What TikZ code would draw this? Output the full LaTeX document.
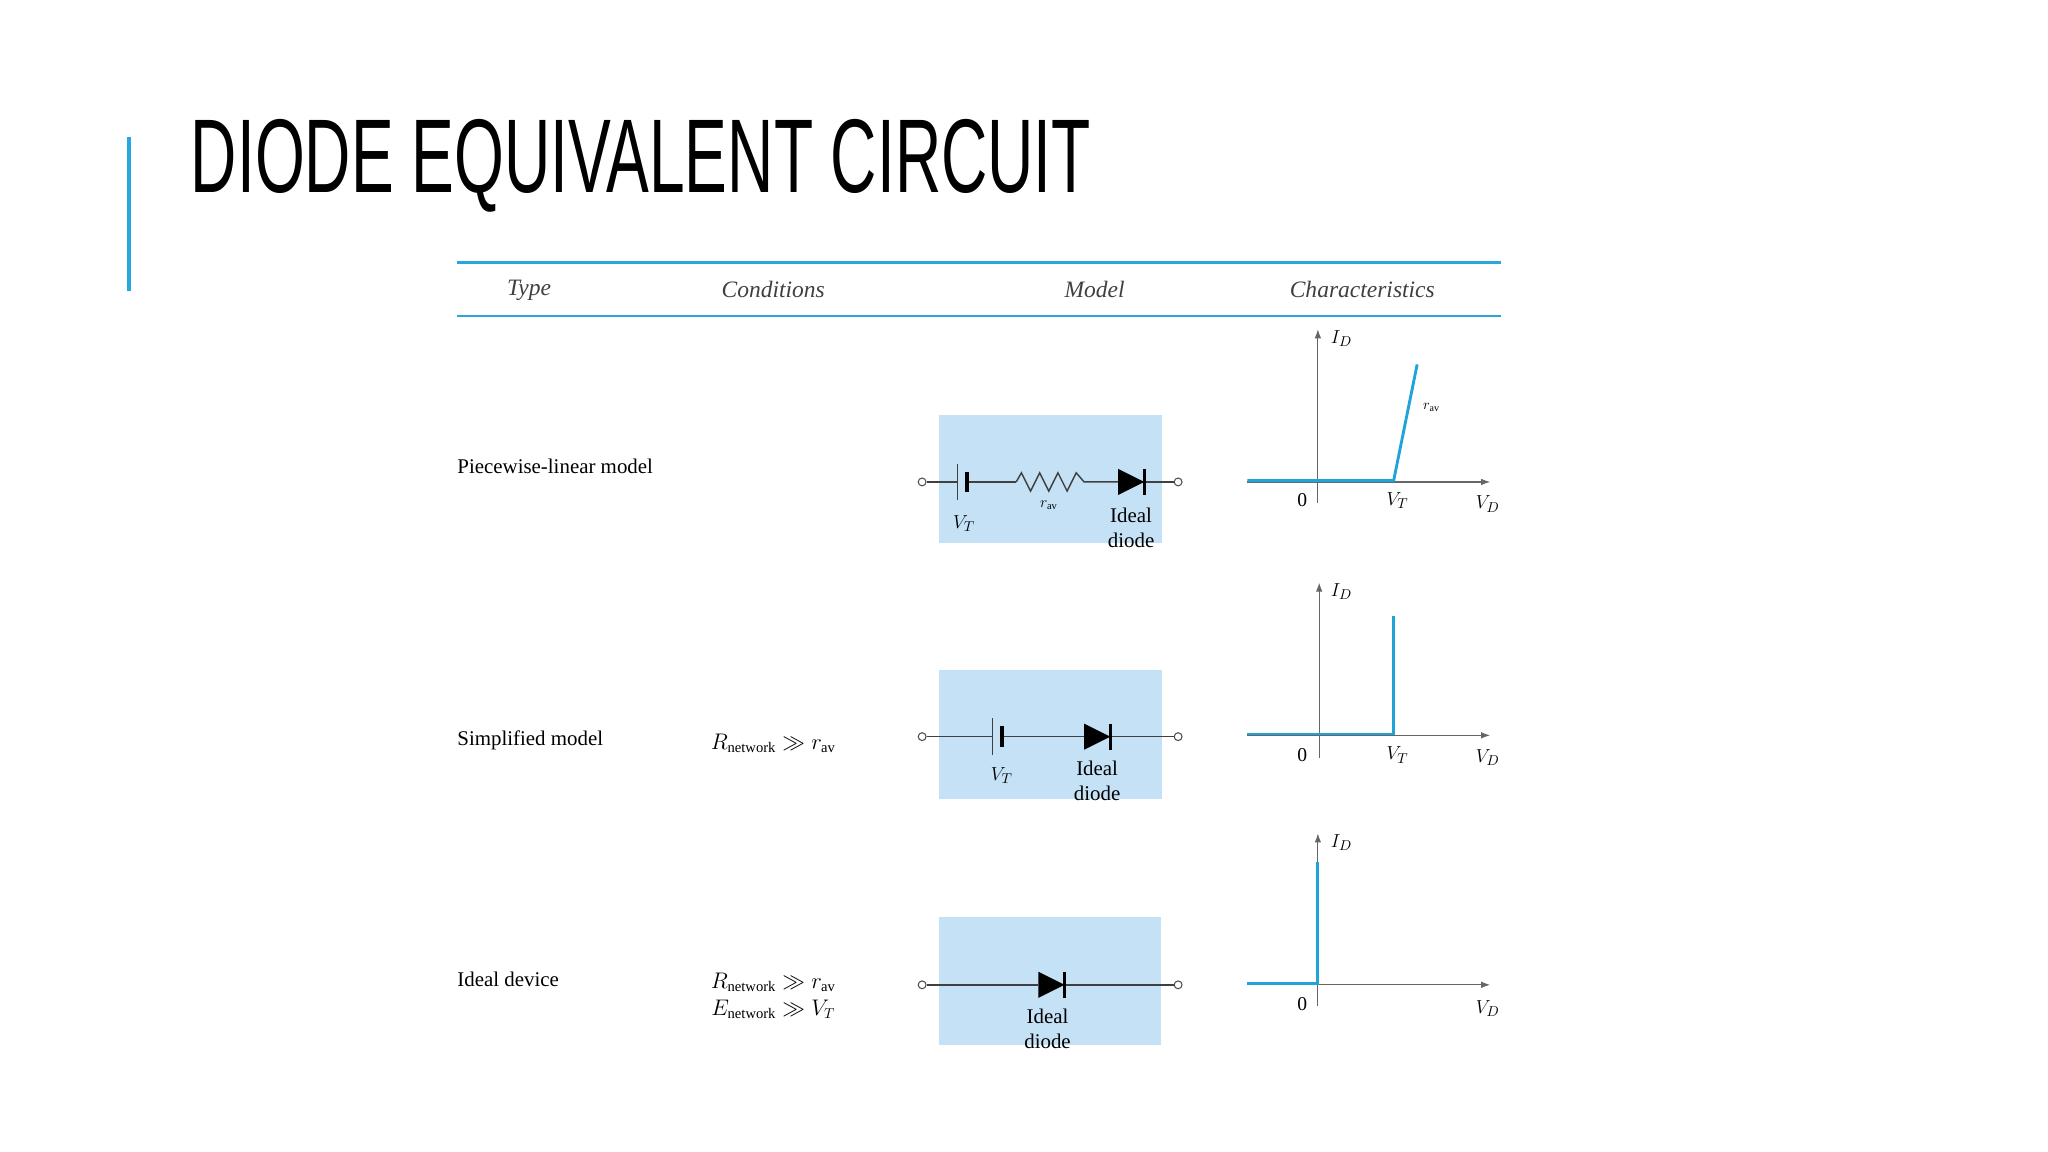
\documentclass[tikz,border=0pt]{standalone}
\usepackage{fontspec}
\setmainfont{Liberation Serif}
\setsansfont{Liberation Sans}
\usetikzlibrary{arrows.meta}
\definecolor{acc}{HTML}{2AA6DE}
\definecolor{boxc}{HTML}{C4E1F6}
\definecolor{crv}{HTML}{1FA3D8}
\begin{document}
\begin{tikzpicture}[x=1pt,y=-1pt,
  txt/.style={inner sep=0pt,font=\fontsize{16}{18}\selectfont},
  hdr/.style={inner sep=0pt,font=\fontsize{18}{20}\selectfont\itshape,text=black!75},
  lbl/.style={inner sep=0pt,font=\fontsize{15}{15}\selectfont,align=center},
  wire/.style={line width=1.1pt,black!75},
  ax/.style={line width=0.9pt,black!60,-{Latex[length=7pt,width=5pt]}},
  term/.style={circle,draw=black!70,fill=white,inner sep=0pt,minimum size=6pt,line width=0.8pt},
  mbox/.style={fill=boxc,draw=none,inner sep=0pt},
  dio/.style={fill=black}]
\useasboundingbox (0,0) rectangle (1568,882);
\fill[acc] (97,105) rectangle (100,223);
\node[anchor=south west,inner sep=0pt] (title) at (146,163) {\resizebox{689pt}{56pt}{\sffamily DIODE EQUIVALENT CIRCUIT}};
\draw[acc,line width=2pt] (350,201) -- (1149,201);
\draw[acc,line width=1pt] (350,242) -- (1149,242);
\node[hdr] (h1) at (405,222) {Type};
\node[hdr] (h2) at (592,222) {Conditions};
\node[hdr] (h3) at (838,222) {Model};
\node[hdr] (h4) at (1043,222) {Characteristics};
% Row 1
\node[txt,anchor=west] (t1) at (350,357) {Piecewise-linear model};
\fill[boxc] (719,318) rectangle (890,416);
\node[term] (a1) at (706,369) {};
\node[term] (b1) at (902,369) {};
\draw[wire] (a1) -- (733,369) (740,369) -- (778,369);
\draw[wire] (778,369) -- (782,362) -- (789,376) -- (796,362) -- (803,376) -- (810,362) -- (817,376) -- (824,362) -- (830,369) -- (856,369);
\draw[wire] (876,369) -- (b1);
\draw[line width=1pt,black!75] (733,355) -- (733,383);
\draw[line width=3pt] (740,361) -- (740,377);
\fill (856,359) -- (876,369) -- (856,379) -- cycle;
\draw[line width=2.5pt] (876,359) -- (876,379);
\node[lbl] (vt1) at (738,401) {$V_T$};
\node[lbl] (r1) at (803,387) {\fontsize{12}{12}\selectfont$r_{\rm av}$};
\node[lbl,font=\fontsize{16}{19}\selectfont] (id1) at (866,404) {Ideal\\diode};
\coordinate (o1) at (1009,369);
\draw[ax] (1009,385) -- (1009,252);
\draw[ax] (955,369) -- (1141,369);
\draw[crv,line width=2.2pt] (955,368) -- (1067,368) -- (1085,279);
\node[lbl] (ID1) at (1027,259) {$I_D$};
\node[lbl] (ra1) at (1096,312) {\fontsize{11}{11}\selectfont$r_{\rm av}$};
\node[lbl] (z1) at (997,383) {0};
\node[lbl] (vtg1) at (1070,383) {$V_T$};
\node[lbl] (vd1) at (1139,386) {$V_D$};
% Row 2
\node[txt,anchor=west] (t2) at (350,567) {Simplified model};
\node[txt] (c2) at (592,569) {$R_{\rm network} \gg r_{\rm av}$};
\fill[boxc] (719,513) rectangle (890,612);
\node[term] (a2) at (706,564) {};
\node[term] (b2) at (902,564) {};
\draw[wire] (a2) -- (760,564) (767,564) -- (830,564) (850,564) -- (b2);
\draw[line width=1pt,black!75] (760,550) -- (760,578);
\draw[line width=3pt] (767,556) -- (767,572);
\fill (830,554) -- (850,564) -- (830,574) -- cycle;
\draw[line width=2.5pt] (850,554) -- (850,574);
\node[lbl] (vt2) at (767,594) {$V_T$};
\node[lbl,font=\fontsize{16}{19}\selectfont] (id2) at (840,598) {Ideal\\diode};
\draw[ax] (1010,580) -- (1010,446);
\draw[ax] (955,563) -- (1141,563);
\draw[crv,line width=2.2pt] (955,562) -- (1067,562) -- (1067,472);
\node[lbl] (ID2) at (1027,453) {$I_D$};
\node[lbl] (z2) at (997,578) {0};
\node[lbl] (vtg2) at (1070,578) {$V_T$};
\node[lbl] (vd2) at (1139,580) {$V_D$};
% Row 3
\node[txt,anchor=west] (t3) at (350,750) {Ideal device};
\node[txt] (c3) at (592,752) {$R_{\rm network} \gg r_{\rm av}$};
\node[txt] (c3b) at (592,773) {$E_{\rm network} \gg V_T$};
\fill[boxc] (719,702) rectangle (889,800);
\node[term] (a3) at (706,754) {};
\node[term] (b3) at (902,754) {};
\draw[wire] (a3) -- (795,754) (815,754) -- (b3);
\fill (795,744) -- (815,754) -- (795,764) -- cycle;
\draw[line width=2.5pt] (815,744) -- (815,764);
\node[lbl,font=\fontsize{16}{19}\selectfont] (id3) at (802,788) {Ideal\\diode};
\draw[ax] (1009,770) -- (1009,638);
\draw[ax] (955,754) -- (1141,754);
\draw[crv,line width=2.2pt] (955,753) -- (1009,753) -- (1009,660);
\node[lbl] (ID3) at (1027,645) {$I_D$};
\node[lbl] (z3) at (997,769) {0};
\node[lbl] (vd3) at (1139,772) {$V_D$};
\end{tikzpicture}
\end{document}
